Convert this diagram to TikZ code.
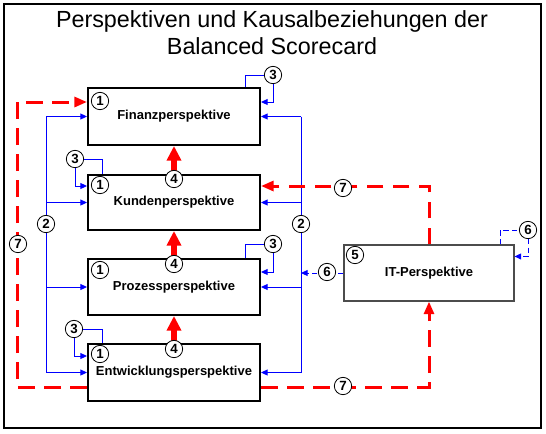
\documentclass[tikz,border=0pt]{standalone}
\usepackage{fontspec}
\setmainfont{Liberation Sans}
\usetikzlibrary{arrows.meta,calc}
\begin{document}
\begin{tikzpicture}[x=0.75pt,y=-0.75pt,
  box/.style={draw=black,line width=1.5pt,fill=white,minimum width=129pt,inner sep=0pt,font=\bfseries\fontsize{9.75}{11}\selectfont},
  itbox/.style={draw=black!70,line width=0.8pt,fill=white,minimum width=127.5pt,minimum height=42pt,inner sep=0pt,font=\bfseries\fontsize{9.75}{11}\selectfont},
  num/.style={circle,draw=black,line width=0.6pt,fill=white,minimum size=13pt,inner sep=0pt,font=\bfseries\fontsize{10}{10}\selectfont},
  titlefont/.style={font=\fontsize{17.5}{20}\selectfont,anchor=base,inner sep=0pt},
  bl/.style={draw=blue,line width=0.75pt},
  blt/.style={-{Triangle[length=5pt,width=4.5pt]}},
  bld/.style={bl,dash pattern=on 4pt off 2.5pt},
  redfour/.style={draw=red,line width=4.3pt,-{Triangle[length=11pt,width=10.5pt]}},
  rd/.style={draw=red,line width=2.25pt,dash pattern=on 12.5pt off 7pt,-{Triangle[length=9.5pt,width=7.5pt]}},
]
\useasboundingbox (0,0) rectangle (546,433);
\draw[line width=1.8pt,draw=black] (4,4) rectangle (541,428);

\node[titlefont] (title1) at (272,27) {Perspektiven und Kausalbeziehungen der};
\node[titlefont] (title2) at (272,54) {Balanced Scorecard};

% boxes
\node[box,minimum height=42.75pt] (fin) at (174,116.5) {Finanzperspektive};
\node[box,minimum height=41.25pt] (kun) at (174,202.5) {Kundenperspektive};
\node[box,minimum height=42pt] (pro) at (174,287) {Prozessperspektive};
\node[box,minimum height=42.75pt] (ent) at (174,372.5) {Entwicklungsperspektive};
\node[itbox] (it) at (429,273) {IT-Perspektive};

% circles (positions)
\node[num] (n1a) at (100,101) {1};
\node[num] (n1b) at (100,185) {1};
\node[num] (n1c) at (100,270) {1};
\node[num] (n1d) at (100,354) {1};
\node[num] (n5) at (355,255) {5};
\node[num] (n3a) at (273,75) {3};
\node[num] (n3b) at (75,159) {3};
\node[num] (n3c) at (273,244) {3};
\node[num] (n3d) at (74,329) {3};
\node[num] (n6b) at (528,230) {6};

% left bus (2)
\coordinate (LB) at (46,0);
\draw[bl] (LB |- fin.west) -- (LB |- ent.west);
\draw[bl,blt] (LB |- fin.west) -- (fin.west);
\draw[bl,blt] (LB |- kun.west) -- (kun.west);
\draw[bl,blt] (LB |- pro.west) -- (pro.west);
\draw[bl,blt] (LB |- ent.west) -- (ent.west);

% right bus (2)
\coordinate (RB) at (301,0);
\draw[bl] (RB |- fin.east) -- (RB |- ent.east);
\draw[bl,blt] (RB |- fin.east) -- (fin.east);
\draw[bl,blt] (RB |- kun.east) -- (kun.east);
\draw[bl,blt] (RB |- pro.east) -- (pro.east);
\draw[bl,blt] (RB |- ent.east) -- (ent.east);

% IT -> bus (6)
\draw[bld,blt] (it.west) -- (RB |- it.west);

% self loops (3)
\draw[bl] ($(fin.north east)+(-16,0)$) |- (n3a.west);
\draw[bl,blt] (n3a.south) |- ($(fin.north east)+(0,15)$);
\draw[bl] (n3b.east) -| ($(kun.north west)+(15,0)$);
\draw[bl,blt] (n3b.south) |- ($(kun.north west)+(0,12)$);
\draw[bl] ($(pro.north east)+(-16,0)$) |- (n3c.west);
\draw[bl,blt] (n3c.south) |- ($(pro.north east)+(0,14)$);
\draw[bl] (n3d.east) -| ($(ent.north west)+(15,0)$);
\draw[bl,blt] (n3d.south) |- ($(ent.north west)+(0,13)$);

% IT self loop (6)
\draw[bld] ($(it.north east)+(-14,0)$) |- (n6b.west);
\draw[bld,blt] (n6b.south) |- ($(it.north east)+(0,12)$);

% red causal arrows (4)
\draw[redfour] (kun.north) -- (fin.south);
\draw[redfour] (pro.north) -- (kun.south);
\draw[redfour] (ent.north) -- (pro.south);

% red dashed (7)
\coordinate (A) at ($(ent.south west)+(0,-15)$);
\coordinate (B) at ($(fin.north west)+(0,15)$);
\coordinate (LR) at (17,0);
\draw[rd] (A) -- (A -| LR) -- (LR |- B) -- (B);
\draw[rd] ($(ent.south east)+(0,-15)$) -| (it.south);
\draw[rd] (it.north) |- ($(kun.north east)+(0,12)$);

% circles on connectors
\node[num] (n4a) at (174,179) {4};
\node[num] (n4b) at (174,264) {4};
\node[num] (n4c) at (174,349) {4};
\node[num] (n2a) at (46,224) {2};
\node[num] (n2b) at (301,224) {2};
\node[num] (n6a) at (327,272) {6};
\node[num] (n7a) at (18,244) {7};
\node[num] (n7b) at (343,188) {7};
\node[num] (n7c) at (343,386) {7};
\end{tikzpicture}
\end{document}
